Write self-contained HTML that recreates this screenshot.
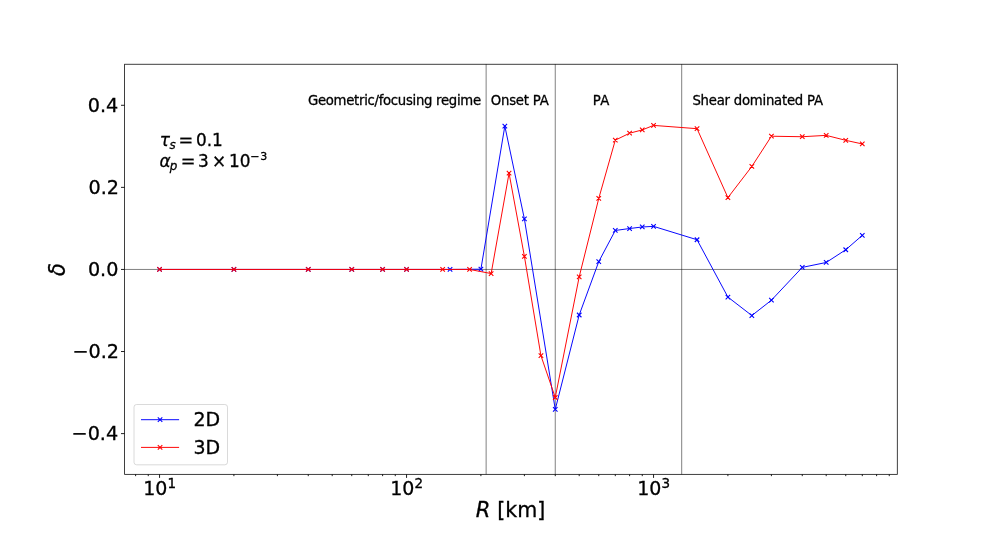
<!DOCTYPE html>
<html lang="en"><head><meta charset="utf-8"><title>delta vs R</title>
<style>html,body{margin:0;padding:0;background:#fff}svg{display:block}text{font-family:"DejaVu Sans","Liberation Sans",sans-serif;fill:#000;stroke:#000;stroke-width:0.3px}.it{font-style:italic}</style></head><body>
<svg width="997" height="533" viewBox="0 0 997 533">
<rect x="0" y="0" width="997" height="533" fill="#fff"/>
<g stroke="#000" stroke-width="0.5" fill="none">
<line x1="486.14" y1="64.0" x2="486.14" y2="474.4"/>
<line x1="555.26" y1="64.0" x2="555.26" y2="474.4"/>
<line x1="681.69" y1="64.0" x2="681.69" y2="474.4"/>
<line x1="124.6" y1="269.45" x2="897.3" y2="269.45"/>
</g>
<polyline points="159.55,269.45 233.90,269.45 308.26,269.45 351.75,269.45 382.61,269.45 406.55,269.45 450.04,269.45 480.90,269.20 504.84,126.10 524.40,218.97 555.26,409.40 579.20,315.00 598.75,261.65 615.29,230.46 629.61,228.53 642.25,226.97 653.55,226.36 697.04,239.74 727.90,297.07 751.84,315.54 771.40,300.23 802.26,267.40 826.20,262.47 845.75,249.75 862.29,235.39" fill="none" stroke="#0000ff" stroke-width="0.97" stroke-linejoin="round"/>
<path d="M157.30 267.20L161.80 271.70M157.30 271.70L161.80 267.20M231.65 267.20L236.15 271.70M231.65 271.70L236.15 267.20M306.01 267.20L310.51 271.70M306.01 271.70L310.51 267.20M349.50 267.20L354.00 271.70M349.50 271.70L354.00 267.20M380.36 267.20L384.86 271.70M380.36 271.70L384.86 267.20M404.30 267.20L408.80 271.70M404.30 271.70L408.80 267.20M447.79 267.20L452.29 271.70M447.79 271.70L452.29 267.20M478.65 266.95L483.15 271.45M478.65 271.45L483.15 266.95M502.59 123.85L507.09 128.35M502.59 128.35L507.09 123.85M522.15 216.72L526.65 221.22M522.15 221.22L526.65 216.72M553.01 407.15L557.51 411.65M553.01 411.65L557.51 407.15M576.95 312.75L581.45 317.25M576.95 317.25L581.45 312.75M596.50 259.40L601.00 263.90M596.50 263.90L601.00 259.40M613.04 228.21L617.54 232.71M613.04 232.71L617.54 228.21M627.36 226.28L631.86 230.78M627.36 230.78L631.86 226.28M640.00 224.72L644.50 229.22M640.00 229.22L644.50 224.72M651.30 224.11L655.80 228.61M651.30 228.61L655.80 224.11M694.79 237.49L699.29 241.99M694.79 241.99L699.29 237.49M725.65 294.82L730.15 299.32M725.65 299.32L730.15 294.82M749.59 313.29L754.09 317.79M749.59 317.79L754.09 313.29M769.15 297.98L773.65 302.48M769.15 302.48L773.65 297.98M800.01 265.15L804.51 269.65M800.01 269.65L804.51 265.15M823.95 260.22L828.45 264.72M823.95 264.72L828.45 260.22M843.50 247.50L848.00 252.00M843.50 252.00L848.00 247.50M860.04 233.14L864.54 237.64M860.04 237.64L864.54 233.14" fill="none" stroke="#0000ff" stroke-width="1.1"/>
<polyline points="159.55,269.45 233.90,269.45 308.26,269.45 351.75,269.45 382.61,269.45 406.55,269.45 442.64,269.45 469.60,269.45 491.13,273.55 509.05,173.21 524.40,256.32 540.93,355.63 555.26,397.49 579.20,276.84 598.75,198.45 615.29,140.17 629.61,133.20 642.25,129.91 653.55,125.40 697.04,128.68 727.90,197.63 751.84,166.44 771.40,136.23 802.26,136.73 826.20,135.37 845.75,140.34 862.29,143.95" fill="none" stroke="#ff0000" stroke-width="0.97" stroke-linejoin="round"/>
<path d="M157.30 267.20L161.80 271.70M157.30 271.70L161.80 267.20M231.65 267.20L236.15 271.70M231.65 271.70L236.15 267.20M306.01 267.20L310.51 271.70M306.01 271.70L310.51 267.20M349.50 267.20L354.00 271.70M349.50 271.70L354.00 267.20M380.36 267.20L384.86 271.70M380.36 271.70L384.86 267.20M404.30 267.20L408.80 271.70M404.30 271.70L408.80 267.20M440.39 267.20L444.89 271.70M440.39 271.70L444.89 267.20M467.35 267.20L471.85 271.70M467.35 271.70L471.85 267.20M488.88 271.30L493.38 275.80M488.88 275.80L493.38 271.30M506.80 170.96L511.30 175.46M506.80 175.46L511.30 170.96M522.15 254.07L526.65 258.57M522.15 258.57L526.65 254.07M538.68 353.38L543.18 357.88M538.68 357.88L543.18 353.38M553.01 395.24L557.51 399.74M553.01 399.74L557.51 395.24M576.95 274.59L581.45 279.09M576.95 279.09L581.45 274.59M596.50 196.20L601.00 200.70M596.50 200.70L601.00 196.20M613.04 137.92L617.54 142.42M613.04 142.42L617.54 137.92M627.36 130.95L631.86 135.45M627.36 135.45L631.86 130.95M640.00 127.66L644.50 132.16M640.00 132.16L644.50 127.66M651.30 123.15L655.80 127.65M651.30 127.65L655.80 123.15M694.79 126.43L699.29 130.93M694.79 130.93L699.29 126.43M725.65 195.38L730.15 199.88M725.65 199.88L730.15 195.38M749.59 164.19L754.09 168.69M749.59 168.69L754.09 164.19M769.15 133.98L773.65 138.48M769.15 138.48L773.65 133.98M800.01 134.48L804.51 138.98M800.01 138.98L804.51 134.48M823.95 133.12L828.45 137.62M823.95 137.62L828.45 133.12M843.50 138.09L848.00 142.59M843.50 142.59L848.00 138.09M860.04 141.70L864.54 146.20M860.04 146.20L864.54 141.70" fill="none" stroke="#ff0000" stroke-width="1.1"/>
<rect x="124.6" y="64.25" width="772.70" height="410.10" fill="none" stroke="#111" stroke-width="0.8"/>
<path d="M124.6 105.29h-3.6M124.6 187.37h-3.6M124.6 269.45h-3.6M124.6 351.53h-3.6M124.6 433.61h-3.6M159.55 474.4v3.5M406.55 474.4v3.5M653.55 474.4v3.5" stroke="#000" stroke-width="0.88" fill="none"/>
<path d="M135.61 474.4v1.75M148.25 474.4v1.75M233.90 474.4v1.75M277.40 474.4v1.75M308.26 474.4v1.75M332.20 474.4v1.75M351.75 474.4v1.75M368.29 474.4v1.75M382.61 474.4v1.75M395.25 474.4v1.75M480.90 474.4v1.75M524.40 474.4v1.75M555.26 474.4v1.75M579.20 474.4v1.75M598.75 474.4v1.75M615.29 474.4v1.75M629.61 474.4v1.75M642.25 474.4v1.75M727.90 474.4v1.75M771.40 474.4v1.75M802.26 474.4v1.75M826.20 474.4v1.75M845.75 474.4v1.75M862.29 474.4v1.75M876.61 474.4v1.75M889.25 474.4v1.75" stroke="#000" stroke-width="0.9" fill="none"/>
<text x="87.68" y="111.65" font-size="19.2">0.4</text>
<text x="88.52" y="194.25" font-size="19.2">0.2</text>
<text x="87.89" y="276.45" font-size="19.2">0.0</text>
<text x="72.43" y="358.25" font-size="19.2">−0.2</text>
<text x="71.59" y="440.25" font-size="19.2">−0.4</text>
<text x="143.23" y="494.80" font-size="19.0">10</text>
<text x="167.48" y="487.90" font-size="13.5">1</text>
<text x="390.23" y="494.80" font-size="19.0">10</text>
<text x="414.51" y="487.90" font-size="13.5">2</text>
<text x="637.23" y="494.80" font-size="19.0">10</text>
<text x="661.47" y="487.90" font-size="13.5">3</text>
<text transform="translate(475.65 516.60) scale(0.99 1)" font-size="21.3" class="it">R</text>
<text x="497.25" y="516.55" font-size="20.6">[km]</text>
<text transform="translate(65.0 269.6) rotate(-90) scale(1 1.09)" font-size="21.1" text-anchor="middle" class="it">δ</text>
<text x="307.96" y="105.30" font-size="13.25" textLength="173.13" lengthAdjust="spacing">Geometric/focusing regime</text>
<text x="490.76" y="105.30" font-size="13.25" textLength="58.05" lengthAdjust="spacing">Onset PA</text>
<text x="592.70" y="105.30" font-size="13.25" textLength="16.71" lengthAdjust="spacing">PA</text>
<text x="692.44" y="105.30" font-size="13.25" textLength="130.57" lengthAdjust="spacing">Shear dominated PA</text>
<text x="159.78" y="145.60" font-size="16.9" class="it">τ</text>
<text x="169.57" y="148.60" font-size="11.9" class="it">s</text>
<text transform="translate(178.45 145.60) scale(1.04 1)" font-size="16.9">=</text>
<text x="195.90" y="145.60" font-size="16.9">0.1</text>
<text x="159.54" y="166.60" font-size="16.9" class="it">α</text>
<text x="169.70" y="169.60" font-size="11.9" class="it">p</text>
<text transform="translate(180.85 166.60) scale(1.04 1)" font-size="16.9">=</text>
<text x="198.12" y="166.60" font-size="16.9">3</text>
<text x="211.88" y="166.60" font-size="16.9">×</text>
<text x="229.06" y="166.60" font-size="16.9">10</text>
<text x="250.34" y="159.90" font-size="11.0" textLength="17.03" lengthAdjust="spacing">−3</text>
<rect x="134.0" y="404.5" width="93.5" height="60.3" rx="2.6" ry="2.6" fill="#fff" fill-opacity="0.8" stroke="#ccc" stroke-opacity="0.8" stroke-width="0.9"/>
<line x1="141" y1="419.7" x2="179.1" y2="419.7" stroke="#0000ff" stroke-width="0.97"/>
<path d="M157.8 417.45L162.3 421.95M157.8 421.95L162.3 417.45" stroke="#0000ff" stroke-width="1.1" fill="none"/>
<text x="193.51" y="426.00" font-size="19.0">2D</text>
<line x1="141" y1="447.4" x2="179.1" y2="447.4" stroke="#ff0000" stroke-width="0.97"/>
<path d="M157.8 445.15L162.3 449.65M157.8 449.65L162.3 445.15" stroke="#ff0000" stroke-width="1.1" fill="none"/>
<text x="193.46" y="453.65" font-size="19.0">3D</text>
</svg></body></html>
